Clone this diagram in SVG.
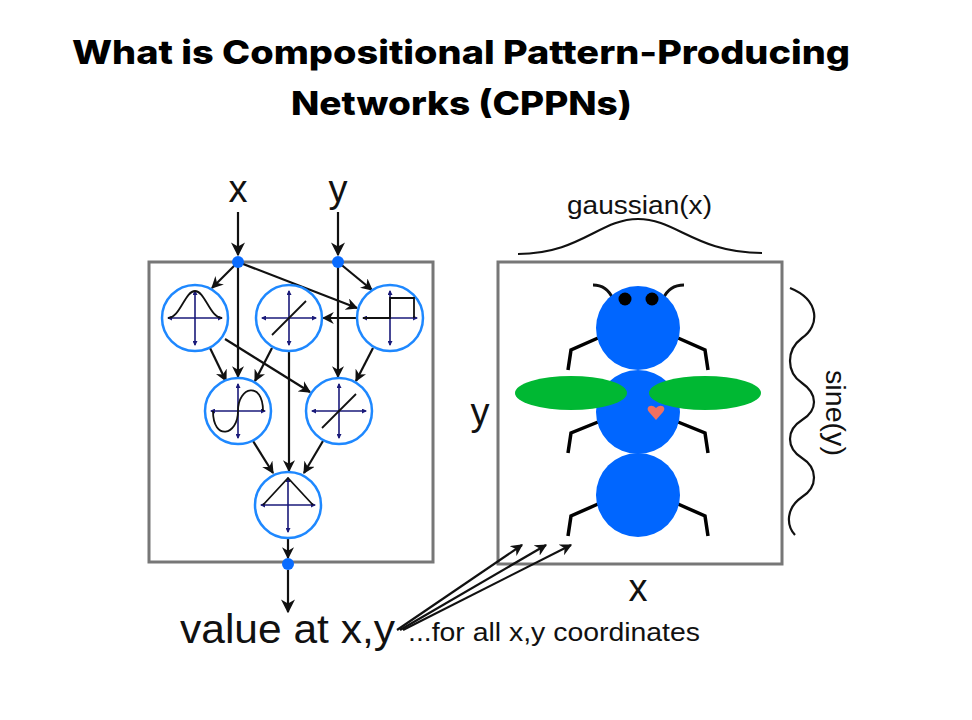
<svg xmlns="http://www.w3.org/2000/svg" width="972" height="720" viewBox="0 0 972 720">
<style>
.box{fill:none;stroke:#777;stroke-width:3}
.nc{fill:#fff;stroke:#1e88ff;stroke-width:2.5}
.ax{stroke:#1a1a7a;stroke-width:1.6;marker-start:url(#sa);marker-end:url(#sa)}
.fn{fill:none;stroke:#111;stroke-width:1.8}
.cn{stroke:#111;stroke-width:2.2;fill:none;marker-end:url(#ah)}
.leg{fill:none;stroke:#000;stroke-width:3.5;stroke-linejoin:miter}
.t{font-family:"Liberation Sans",Arial,sans-serif;fill:#111}
.title{font-family:Inter,"Open Sans",sans-serif;font-weight:800;font-size:33px;fill:#000}
.dot{fill:#0a6cff}
</style>
<defs>
<marker id="ah" viewBox="0 0 10 10" refX="9" refY="5" markerWidth="12" markerHeight="12" markerUnits="userSpaceOnUse" orient="auto"><path d="M0,0L10,5L0,10L3,5z" fill="#111"/></marker>
<marker id="ah2" viewBox="0 0 10 10" refX="9" refY="5" markerWidth="14" markerHeight="14" markerUnits="userSpaceOnUse" orient="auto"><path d="M0,0L10,5L0,10L3,5z" fill="#111"/></marker>
<marker id="sa" viewBox="0 0 10 10" refX="8" refY="5" markerWidth="5" markerHeight="5" markerUnits="userSpaceOnUse" orient="auto-start-reverse"><path d="M0,0L10,5L0,10z" fill="#1a1a7a"/></marker>
<g id="axes"><line class="ax" x1="-27" y1="0" x2="27" y2="0"/><line class="ax" x1="0" y1="-27" x2="0" y2="27"/></g>
</defs>
<rect width="972" height="720" fill="#fff"/>
<g id="title">
<text class="title" x="72" y="64" textLength="778" lengthAdjust="spacingAndGlyphs">What is Compositional Pattern-Producing</text>
<text class="title" x="291" y="115" textLength="341" lengthAdjust="spacingAndGlyphs">Networks (CPPNs)</text>
</g>
<rect class="box" x="149" y="262" width="284" height="300"/>
<rect class="box" x="498" y="262" width="284" height="302"/>
<g id="connectors">
<line class="cn" x1="238" y1="212" x2="238" y2="255" style="marker-end:url(#ah2)"/>
<line class="cn" x1="338" y1="212" x2="338" y2="255" style="marker-end:url(#ah2)"/>
<line class="cn" x1="238" y1="262" x2="212" y2="288"/>
<line class="cn" x1="238" y1="262" x2="238" y2="377"/>
<line class="cn" x1="238" y1="262" x2="357" y2="308"/>
<line class="cn" x1="338" y1="262" x2="372" y2="290"/>
<line class="cn" x1="338" y1="262" x2="338" y2="377"/>
<line class="cn" x1="357" y1="318" x2="323" y2="318"/>
<line class="cn" x1="210" y1="348" x2="226" y2="381"/>
<line class="cn" x1="225" y1="339" x2="310" y2="392"/>
<line class="cn" x1="272" y1="348" x2="255" y2="381"/>
<line class="cn" x1="289" y1="351" x2="289" y2="471"/>
<line class="cn" x1="373" y1="348" x2="356" y2="381"/>
<line class="cn" x1="253" y1="441" x2="273" y2="473"/>
<line class="cn" x1="323" y1="441" x2="304" y2="473"/>
<line class="cn" x1="288" y1="538" x2="288" y2="558"/>
<line class="cn" x1="288" y1="570" x2="288" y2="612" style="marker-end:url(#ah2)"/>
<line class="cn" x1="397" y1="630" x2="522" y2="545"/>
<line class="cn" x1="400" y1="630" x2="546" y2="545"/>
<line class="cn" x1="403" y1="630" x2="571" y2="545"/>
</g>
<g id="in-x"><circle class="dot" cx="238" cy="262" r="6"/><text class="t" x="238" y="202" font-size="38" text-anchor="middle">x</text></g>
<g id="in-y"><circle class="dot" cx="338" cy="262" r="6"/><text class="t" x="338" y="202" font-size="38" text-anchor="middle">y</text></g>
<g id="out"><circle class="dot" cx="288" cy="564" r="6"/></g>
<g id="n-gauss" transform="translate(195,318)"><circle class="nc" r="33"/><use href="#axes"/><path class="fn" d="M-27,0C-15,0 -10,-27 0,-27S15,0 27,0"/></g>
<g id="n-lin1" transform="translate(289,318)"><circle class="nc" r="33"/><use href="#axes"/><line class="fn" x1="-17" y1="17" x2="17" y2="-17"/></g>
<g id="n-step" transform="translate(390,318)"><circle class="nc" r="33"/><use href="#axes"/><path class="fn" d="M-27,0H0V-20H24V0"/></g>
<g id="n-sine" transform="translate(238,411)"><circle class="nc" r="33"/><use href="#axes"/><path class="fn" d="M-25,0C-25,30 0,25 0,0S25,-30 25,0"/></g>
<g id="n-lin2" transform="translate(339,411)"><circle class="nc" r="33"/><use href="#axes"/><line class="fn" x1="-17" y1="17" x2="17" y2="-17"/></g>
<g id="n-tri" transform="translate(288,505)"><circle class="nc" r="33"/><use href="#axes"/><path class="fn" d="M-25,0L0,-27L25,0"/></g>
<g id="bug">
<path class="leg" d="M598,338L571,350L568,370M678,338L705,350L708,370M598,422L571,433L568,453M678,422L705,433L708,453M598,504L571,516L568,536M678,504L705,516L708,536"/>
<path class="fn" style="stroke-width:3" d="M613,299C609,290 603,285 593,285M663,299C667,290 673,285 684,285"/>
<circle cx="638" cy="328" r="42" fill="#0066ff"/>
<circle cx="638" cy="412" r="42" fill="#0066ff"/>
<circle cx="638" cy="495" r="42" fill="#0066ff"/>
<circle cx="625" cy="299" r="6.5" fill="#000"/>
<circle cx="652" cy="299" r="6.5" fill="#000"/>
<ellipse cx="571" cy="393" rx="56" ry="17" fill="#00b833"/>
<ellipse cx="705" cy="393" rx="56" ry="17" fill="#00b833"/>
<path d="M656,420L649,412C645,407 651,403 656,408C661,403 667,407 663,412Z" fill="#f07060"/>
</g>
<g id="labels">
<text class="t" x="567" y="214" font-size="26" textLength="145" lengthAdjust="spacingAndGlyphs">gaussian(x)</text>
<path class="fn" style="stroke-width:2.2" d="M518,254C580,254 600,219 638,219S696,253 762,253"/>
<path class="fn" style="stroke-width:2.2" d="M790,288C820,300 820,326 802,338C786,350 786,372 802,383C818,394 818,410 802,420C786,430 786,448 802,458C818,468 818,487 802,497C786,508 786,525 795,535"/>
<text class="t" font-size="27" transform="translate(826,370) rotate(90)" textLength="86" lengthAdjust="spacingAndGlyphs">sine(y)</text>
<text class="t" x="480" y="425" font-size="38" text-anchor="middle">y</text>
<text class="t" x="638" y="601" font-size="38" text-anchor="middle">x</text>
<text class="t" x="180" y="643" font-size="40" textLength="215" lengthAdjust="spacingAndGlyphs">value at x,y</text>
<text class="t" x="408" y="641" font-size="25" textLength="292" lengthAdjust="spacingAndGlyphs">...for all x,y coordinates</text>
</g>
</svg>
